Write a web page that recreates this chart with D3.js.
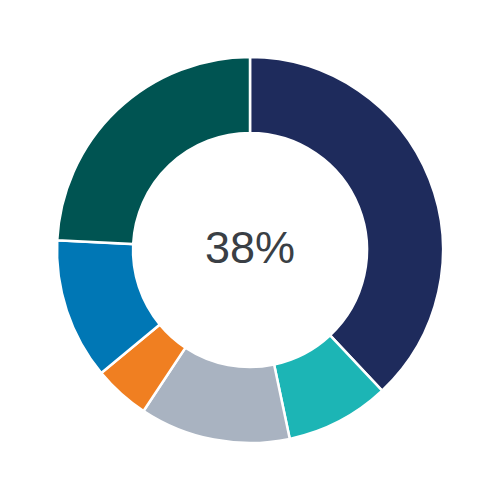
<!DOCTYPE html>
<html>
<head>
<meta charset="utf-8">
<script src="https://cdn.jsdelivr.net/npm/d3@7"></script>
<style>
  body { margin: 0; background: #fff; }
</style>
</head>
<body>
<script>
// slice values in percent, clockwise from 12 o'clock
var categories = ["A", "B", "C", "D", "E", "F"];
var values = [38, 8.7, 12.6, 4.7, 11.8, 24.2];
var colours = ["#1e2b5c", "#1cb5b5", "#a9b3c1", "#f07f21", "#0077b5", "#005452"];
var centreLabel = "38%";

var width = 500, height = 500;

var svg = d3.select("body")
            .append("svg")
            .attr("width", width)
            .attr("height", height);

var g = svg.append("g")
            .attr("transform", "translate(250,250)");

var pie = d3.pie()
            .sort(null)
            .value(function(d) { return d; });

var arc = d3.arc()
            .innerRadius(117)
            .outerRadius(193);

var colour = d3.scaleOrdinal()
            .domain(categories)
            .range(colours);

g.selectAll("path")
    .data(pie(values))
    .enter()
    .append("path")
    .attr("d", arc)
    .attr("fill", function(d, i) { return colour(categories[i]); })
    .attr("stroke", "#fff")
    .attr("stroke-width", 2.5);

g.append("text")
    .attr("text-anchor", "middle")
    .attr("y", 13)
    .attr("font-family", "Liberation Sans, Arial, sans-serif")
    .attr("font-size", "45px")
    .attr("fill", "#3a3f45")
    .text(centreLabel);
</script>
</body>
</html>
